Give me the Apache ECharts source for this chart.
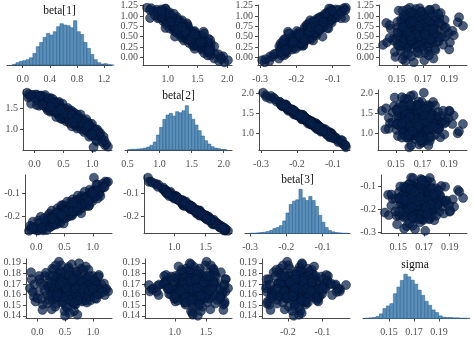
<!DOCTYPE html>
<html><head><meta charset="utf-8">
<script src="https://cdn.jsdelivr.net/npm/echarts@6/dist/echarts.min.js"></script>
<style>html,body{margin:0;padding:0;background:#fff}#c{width:474px;height:338px}</style>
</head><body><div id="c"></div>
<script>
// ---- upper-triangle draws (first half of chains) ----
const uB1 = [-0.12,-0.07,-0.03,0.01,0.05,0.09,0.13,0.16,0.19,0.21,0.23,0.25,0.27,0.29,0.30,0.32,0.33,0.35,0.36,0.37,0.38,0.39,0.34,0.28,0.24,0.31,0.41,0.42,0.43,0.44,0.45,0.46,0.47,0.48,0.49,0.50,0.51,0.52,0.53,0.54,0.55,0.56,0.57,0.58,0.59,0.435,0.465,0.505,0.545,0.575,0.595,0.60,0.61,0.62,0.63,0.64,0.65,0.66,0.67,0.68,0.69,0.70,0.71,0.72,0.73,0.74,0.75,0.76,0.77,0.78,0.79,0.615,0.645,0.675,0.705,0.735,0.765,0.785,0.76,0.80,0.81,0.82,0.83,0.84,0.85,0.86,0.87,0.88,0.89,0.90,0.91,0.92,0.93,0.94,0.95,0.97,0.98,0.99,0.96,1.01,1.03,1.05,1.07,1.09,1.11,1.13,1.15,1.17,1.20,1.19,1.18,1.16,0.62,-0.09,0.95,
  0.025,0.105,0.155,0.205,0.225,0.255,0.265,0.285,0.305,0.315,0.325,0.345,0.355,0.365,0.375,0.385,0.395,0.405,0.415,0.425,0.445,0.455,0.475,0.485,0.495,0.515,0.525,0.535,0.555,0.565,0.585,0.605,0.625,0.635,0.655,0.665,0.685,0.695,0.715,0.725,0.745,0.755,0.775,0.795,0.805,0.815,0.825,0.835,0.845,0.855,0.865,0.875,0.885,0.895,0.905,0.915,0.925,0.945,0.955,0.965,0.975,0.985,1.005,1.025,1.045,1.065,1.085,1.105,1.125,1.145,1.055,0.045,0.075,0.115,0.175,-0.045,0.575,0.50,0.71,0.42,0.64,0.53,0.47,0.69,0.58,0.36,0.78,0.60,0.72,0.57,0.66,0.51,0.75,0.44,0.62,0.83,0.68,0.55,0.73,0.86];
const uB2 = [1.95,2.01,1.78,1.89,1.72,1.79,1.67,1.70,1.56,1.72,1.56,1.62,1.46,1.69,1.56,1.47,1.59,1.49,1.62,1.40,1.53,1.44,1.72,1.42,1.60,1.60,1.53,1.37,1.59,1.41,1.68,1.44,1.35,1.50,1.29,1.43,1.37,1.49,1.30,1.41,1.32,1.42,1.21,1.34,1.27,1.30,1.52,1.35,1.48,1.36,1.15,1.37,1.22,1.40,1.26,1.32,1.16,1.33,1.21,1.25,1.32,1.16,1.25,1.08,1.32,1.17,1.25,1.09,1.19,1.26,1.10,1.45,1.10,1.30,1.21,1.28,1.05,1.33,1.23,1.18,1.06,1.22,1.10,1.17,1.00,1.12,1.20,1.03,1.10,0.94,1.12,1.05,0.97,1.13,0.99,1.05,0.90,1.06,0.85,1.02,0.88,1.02,0.90,0.95,0.76,0.93,0.81,0.96,0.65,0.72,0.96,0.89,1.60,1.86,0.70,
  1.93,1.61,1.71,1.45,1.71,1.56,1.78,1.44,1.56,1.66,1.46,1.36,1.57,1.67,1.40,1.47,1.59,1.27,1.49,1.33,1.59,1.33,1.45,1.22,1.48,1.35,1.57,1.23,1.36,1.46,1.25,1.14,1.35,1.45,1.17,1.24,1.35,1.03,1.24,1.09,1.34,1.08,1.20,0.97,1.23,1.10,1.32,0.99,1.12,1.22,1.02,0.92,1.13,1.24,0.97,1.04,1.15,0.83,1.05,0.89,1.15,0.89,1.02,0.78,1.03,0.90,1.03,0.82,0.89,0.70,1.10,1.67,1.85,1.70,1.69,1.90,1.61,1.12,0.96,1.71,1.23,1.44,1.39,1.25,1.37,1.55,1.11,1.23,1.28,1.31,1.28,1.41,1.17,1.39,1.29,1.18,1.15,1.45,1.24,1.05];
const uB3 = [-0.287,-0.294,-0.248,-0.266,-0.233,-0.257,-0.229,-0.244,-0.211,-0.244,-0.207,-0.225,-0.192,-0.241,-0.215,-0.190,-0.216,-0.205,-0.226,-0.180,-0.211,-0.191,-0.243,-0.181,-0.218,-0.227,-0.205,-0.182,-0.213,-0.191,-0.231,-0.186,-0.179,-0.207,-0.162,-0.189,-0.174,-0.203,-0.172,-0.183,-0.172,-0.194,-0.148,-0.172,-0.165,-0.159,-0.209,-0.173,-0.198,-0.184,-0.143,-0.178,-0.157,-0.179,-0.165,-0.166,-0.142,-0.175,-0.148,-0.164,-0.172,-0.147,-0.153,-0.126,-0.177,-0.143,-0.158,-0.134,-0.143,-0.163,-0.129,-0.192,-0.137,-0.161,-0.159,-0.162,-0.123,-0.172,-0.152,-0.149,-0.123,-0.153,-0.138,-0.141,-0.117,-0.133,-0.154,-0.118,-0.128,-0.108,-0.138,-0.120,-0.108,-0.142,-0.110,-0.125,-0.096,-0.129,-0.091,-0.116,-0.098,-0.114,-0.100,-0.102,-0.076,-0.102,-0.084,-0.105,-0.064,-0.070,-0.110,-0.092,-0.223,-0.274,-0.066,
  -0.272,-0.226,-0.230,-0.202,-0.237,-0.224,-0.247,-0.182,-0.219,-0.233,-0.184,-0.187,-0.212,-0.237,-0.178,-0.209,-0.217,-0.154,-0.208,-0.169,-0.212,-0.177,-0.185,-0.162,-0.197,-0.187,-0.210,-0.145,-0.184,-0.198,-0.147,-0.149,-0.173,-0.199,-0.138,-0.169,-0.175,-0.112,-0.164,-0.127,-0.169,-0.133,-0.141,-0.118,-0.153,-0.144,-0.166,-0.103,-0.142,-0.156,-0.107,-0.110,-0.135,-0.162,-0.103,-0.134,-0.140,-0.077,-0.131,-0.092,-0.135,-0.100,-0.110,-0.085,-0.118,-0.109,-0.115,-0.074,-0.102,-0.065,-0.121,-0.241,-0.261,-0.243,-0.229,-0.285,-0.221,-0.128,-0.115,-0.235,-0.158,-0.190,-0.185,-0.156,-0.184,-0.208,-0.137,-0.151,-0.163,-0.170,-0.161,-0.189,-0.147,-0.179,-0.164,-0.151,-0.138,-0.192,-0.160,-0.126];
const uSig = [0.163,0.171,0.178,0.149,0.156,0.167,0.1485,0.174,0.190,0.161,0.158,0.166,0.153,0.169,0.1395,0.172,0.160,0.177,0.1425,0.164,0.182,0.157,0.168,0.1545,0.1735,0.1505,0.165,0.159,0.171,0.1625,0.176,0.155,0.168,0.161,0.1735,0.1845,0.152,0.166,0.158,0.1695,0.1785,0.163,0.1555,0.171,0.1605,0.1645,0.1475,0.187,0.1575,0.1805,0.1675,0.162,0.175,0.1585,0.1665,0.154,0.1715,0.1815,0.161,0.1695,0.1565,0.1735,0.164,0.1505,0.1675,0.1785,0.159,0.1705,0.1635,0.1845,0.157,0.1625,0.169,0.1545,0.1765,0.1605,0.1725,0.1665,0.2005,0.165,0.158,0.1755,0.142,0.168,0.1965,0.1615,0.1535,0.1725,0.1795,0.1645,0.159,0.1705,0.1555,0.1825,0.1685,0.1975,0.1605,0.1745,0.1635,0.1665,0.171,0.1575,0.1835,0.162,0.169,0.1515,0.1755,0.1645,0.160,0.1675,0.1795,0.158,0.1695,0.1565,0.1615,
  0.161,0.172,0.153,0.179,0.166,0.1585,0.1695,0.1515,0.1855,0.1635,0.157,0.1745,0.1665,0.1545,0.1805,0.1605,0.1685,0.1475,0.1765,0.162,0.1555,0.1705,0.1635,0.1825,0.1595,0.1675,0.1505,0.1735,0.1655,0.1575,0.1785,0.1615,0.1695,0.1755,0.1535,0.1645,0.1585,0.1715,0.1865,0.1625,0.1565,0.1745,0.1665,0.1595,0.1785,0.1555,0.1705,0.1645,0.1825,0.1505,0.1675,0.1755,0.1595,0.1685,0.1865,0.1615,0.1535,0.1725,0.1655,0.1585,0.1795,0.1675,0.1555,0.1705,0.1635,0.1765,0.1605,0.1685,0.1545,0.1745,0.1815,0.1745,0.1585,0.1655,0.1795,0.1545,0.1725,0.1665,0.1595,0.161,0.1925,0.1935,0.1445,0.1455,0.1895,0.1905,0.1445,0.1505,0.1875,0.1645,0.1735,0.1605,0.1665,0.1755,0.1575,0.1605,0.1775,0.1715,0.1545,0.1625];
// ---- lower-triangle draws (second half of chains) ----
const lB1 = [-0.13,-0.06,-0.10,-0.03,-0.11,0.02,0.06,0.10,0.14,0.17,0.19,0.21,0.22,0.24,0.26,0.27,0.29,0.30,0.31,0.33,0.34,0.35,0.36,0.37,0.38,0.39,0.23,0.28,0.40,0.41,0.42,0.43,0.44,0.45,0.46,0.47,0.48,0.49,0.50,0.51,0.52,0.53,0.54,0.55,0.56,0.57,0.58,0.59,0.425,0.475,0.515,0.565,0.585,0.60,0.61,0.62,0.63,0.64,0.65,0.66,0.67,0.68,0.69,0.70,0.71,0.72,0.73,0.74,0.75,0.76,0.77,0.78,0.79,0.605,0.635,0.665,0.695,0.725,0.755,0.785,0.745,0.80,0.81,0.82,0.83,0.84,0.85,0.86,0.87,0.88,0.89,0.90,0.92,0.93,0.93,0.95,0.96,0.97,0.98,0.99,1.02,1.00,1.04,1.06,1.05,1.08,1.12,1.15,1.22,1.27,1.24,1.10,
  -0.08,0.04,0.08,0.12,0.155,0.185,0.205,0.225,0.245,0.255,0.275,0.295,0.315,0.325,0.345,0.355,0.375,0.385,0.395,0.405,0.415,0.435,0.445,0.455,0.465,0.485,0.495,0.505,0.525,0.535,0.545,0.555,0.575,0.595,0.615,0.625,0.645,0.655,0.675,0.685,0.705,0.715,0.735,0.765,0.775,0.795,0.805,0.815,0.825,0.845,0.855,0.875,0.895,0.905,0.915,0.935,0.945,0.955,0.975,0.995,1.015,1.035,1.065,1.085,1.105,1.135,1.175,1.195,1.21,0.005,-0.05,0.035,0.095,0.135,0.49,0.66,0.58,0.43,0.62,0.75,0.33,0.87,0.54,0.69,0.60,0.47,0.77,0.40,0.82,0.57,0.71,0.51,0.64,0.36,0.92,0.73,0.45,0.66,0.28,1.00];
const lB2 = [1.855,1.60,1.82,1.80,1.74,1.81,1.67,1.78,1.66,1.76,1.53,1.68,1.55,1.72,1.57,1.62,1.43,1.63,1.51,1.55,1.43,1.65,1.50,1.56,1.43,1.51,1.44,1.73,1.54,1.36,1.49,1.41,1.56,1.36,1.47,1.29,1.42,1.49,1.37,1.44,1.29,1.39,1.24,1.45,1.31,1.37,1.26,1.45,1.64,1.24,1.38,1.42,1.22,1.36,1.23,1.39,1.27,1.31,1.15,1.32,1.20,1.37,1.20,1.25,1.13,1.29,1.16,1.24,1.08,1.19,1.28,1.09,1.18,1.15,1.44,1.17,1.27,1.07,1.25,1.14,1.34,1.09,1.22,1.04,1.14,1.08,1.21,0.98,1.14,1.02,1.16,1.05,1.11,0.94,1.16,1.05,0.94,1.05,0.86,1.07,0.585,1.01,0.89,1.00,0.85,0.72,0.91,0.81,0.63,0.60,0.66,0.94,
  1.77,1.81,1.55,1.79,1.64,1.80,1.50,1.63,1.72,1.52,1.41,1.62,1.71,1.44,1.51,1.62,1.29,1.51,1.36,1.62,1.36,1.48,1.26,1.52,1.39,1.60,1.26,1.40,1.49,1.29,1.19,1.40,1.50,1.22,1.29,1.40,1.07,1.29,1.13,1.39,1.12,1.25,1.02,1.26,1.13,1.35,1.01,1.14,1.24,1.04,0.94,1.14,1.24,0.97,1.04,1.14,0.83,1.05,0.88,1.13,0.87,0.99,0.75,1.00,0.86,0.92,0.71,0.83,0.74,1.73,1.80,1.57,1.78,1.57,1.42,1.26,1.28,1.49,1.26,1.24,1.58,1.06,1.39,1.27,1.25,1.48,1.15,1.43,1.16,1.35,1.17,1.36,1.34,1.42,1.09,1.26,1.46,1.17,1.52,0.89];
const lB3 = [-0.263,-0.223,-0.255,-0.258,-0.241,-0.261,-0.227,-0.254,-0.236,-0.246,-0.212,-0.231,-0.213,-0.245,-0.209,-0.222,-0.193,-0.222,-0.209,-0.207,-0.188,-0.231,-0.198,-0.219,-0.191,-0.202,-0.188,-0.241,-0.213,-0.175,-0.205,-0.183,-0.212,-0.183,-0.194,-0.164,-0.191,-0.196,-0.183,-0.190,-0.170,-0.178,-0.158,-0.198,-0.166,-0.178,-0.163,-0.190,-0.229,-0.151,-0.181,-0.194,-0.157,-0.174,-0.153,-0.186,-0.157,-0.174,-0.143,-0.169,-0.153,-0.177,-0.145,-0.163,-0.137,-0.168,-0.139,-0.162,-0.127,-0.149,-0.161,-0.134,-0.143,-0.138,-0.195,-0.149,-0.160,-0.129,-0.154,-0.143,-0.177,-0.128,-0.156,-0.118,-0.144,-0.128,-0.149,-0.115,-0.136,-0.121,-0.147,-0.122,-0.131,-0.107,-0.155,-0.127,-0.100,-0.123,-0.093,-0.124,-0.032,-0.120,-0.092,-0.113,-0.086,-0.062,-0.101,-0.079,-0.049,-0.050,-0.054,-0.103,
  -0.246,-0.261,-0.202,-0.261,-0.225,-0.260,-0.198,-0.215,-0.247,-0.208,-0.175,-0.233,-0.236,-0.197,-0.197,-0.236,-0.165,-0.196,-0.185,-0.220,-0.172,-0.203,-0.152,-0.214,-0.181,-0.231,-0.156,-0.175,-0.207,-0.168,-0.136,-0.194,-0.200,-0.159,-0.159,-0.197,-0.126,-0.158,-0.145,-0.179,-0.130,-0.163,-0.110,-0.169,-0.136,-0.187,-0.112,-0.130,-0.163,-0.124,-0.093,-0.149,-0.154,-0.115,-0.115,-0.152,-0.084,-0.116,-0.101,-0.134,-0.086,-0.117,-0.062,-0.123,-0.089,-0.112,-0.059,-0.075,-0.072,-0.249,-0.251,-0.218,-0.250,-0.210,-0.187,-0.164,-0.160,-0.198,-0.159,-0.159,-0.214,-0.124,-0.181,-0.164,-0.156,-0.202,-0.140,-0.186,-0.146,-0.178,-0.142,-0.179,-0.178,-0.186,-0.133,-0.159,-0.194,-0.142,-0.209,-0.100];
const lSig = [0.166,0.158,0.1745,0.1535,0.181,0.1625,0.171,0.1505,0.1775,0.1595,0.168,0.155,0.1725,0.1635,0.146,0.1845,0.161,0.1695,0.157,0.1765,0.1645,0.1515,0.172,0.1605,0.1795,0.191,0.167,0.1585,0.1625,0.174,0.1565,0.1685,0.1805,0.1535,0.165,0.1595,0.1715,0.1635,0.140,0.1775,0.161,0.1675,0.1555,0.1735,0.186,0.1585,0.1665,0.162,0.1705,0.1755,0.149,0.1645,0.1825,0.165,0.158,0.1715,0.1525,0.1685,0.1775,0.161,0.1665,0.1555,0.1735,0.1635,0.1815,0.141,0.1695,0.1595,0.1755,0.164,0.1565,0.1705,0.1845,0.1675,0.1625,0.1505,0.1785,0.166,0.1715,0.1605,0.1735,0.1635,0.1545,0.1725,0.1665,0.1795,0.1585,0.1695,0.1615,0.1755,0.1525,0.1665,0.1835,0.160,0.1715,0.1575,0.1745,0.1655,0.170,0.1605,0.169,0.1775,0.165,0.156,0.1725,0.168,0.1605,0.1695,0.165,0.163,0.1655,0.177,
  0.1625,0.1745,0.156,0.1685,0.1805,0.1515,0.1665,0.1775,0.1595,0.1705,0.1545,0.1835,0.1655,0.1485,0.1725,0.1605,0.1765,0.1645,0.1575,0.1715,0.1825,0.1615,0.1685,0.1525,0.1755,0.1655,0.1585,0.1795,0.1635,0.1475,0.1705,0.1845,0.1595,0.1675,0.1555,0.1735,0.1645,0.1775,0.1615,0.1505,0.1685,0.1815,0.1575,0.1665,0.1745,0.1625,0.1535,0.1715,0.1835,0.1605,0.1665,0.1545,0.1755,0.1645,0.1585,0.1695,0.1775,0.1545,0.1675,0.1615,0.1735,0.1565,0.1695,0.1605,0.1785,0.1655,0.1625,0.1705,0.1595,0.1565,0.1695,0.1775,0.1455,0.1635,0.1445,0.1445,0.1425,0.1875,0.1885,0.1895,0.1875,0.1865,0.1625,0.1655,0.1725,0.1575,0.1605,0.1695,0.1655,0.1785,0.1575,0.1665,0.1745,0.1585,0.1635,0.1545,0.1715,0.1525,0.1775,0.1655];

// ---- diagonal histograms (bin counts) ----
const paramNames = ['beta[1]', 'beta[2]', 'beta[3]', 'sigma'];
const histBinStart = [-0.15, 0.5, -0.3, 0.131];
const histBinWidth = [0.05, 0.05, 0.009, 0.0028];
const histBeta1 = [2,7,11,13,16,22,35,55,68,83,95,90,100,115,124,120,118,112,133,100,92,68,50,32,16,7,3,4,1,0];
const histBeta2 = [1,2,2,3,4,6,9,14,24,45,68,92,105,110,102,115,112,118,133,108,92,75,58,42,28,18,10,6,4,2,1];
const histBeta3 = [1,1,2,3,4,6,9,15,18,24,38,62,88,98,102,134,108,100,112,100,82,55,34,18,9,5,3,2,1,1];
const histSigma = [1,2,3,6,14,30,38,45,75,95,115,134,126,116,104,86,70,52,40,26,18,8,4,3,3,2,2,1,1,1];
const histCounts = [histBeta1, histBeta2, histBeta3, histSigma];

// ---- tick labels ----
const upperTicks = [[0,0.25,0.5,0.75,1,1.25],[1,1.5,2],[-0.3,-0.2,-0.1],[0.15,0.17,0.19]];
const upperDigits = [2,1,1,2];
const lowerTicks = [[0,0.5,1],[1,1.5],[-0.2,-0.1],[0.14,0.15,0.16,0.17,0.18,0.19]];
const lowerDigits = [1,1,1,2];
const histTicks = [[0,0.4,0.8,1.2],[0.5,1,1.5,2],[-0.3,-0.2,-0.1],[0.15,0.17,0.19]];
const histDigits = [1,1,1,2];

// ---- layout ----
const rowTop = [5, 90, 175, 259];
const rowBottom = [65, 150, 233.5, 318.5];
const colRight = [112, 232, 350, 467];
const histLeft = [7, 125, 245, 363];
const histRange = [[-0.232, 1.318], [0.46, 2.13], [-0.314, -0.024], [0.129, 0.2126]];
const scatterLeft = [
  [null, 143, 258, 379],
  [23, null, 259, 378],
  [25, 144, null, 381],
  [26, 145, 262, null]
];
const FONT = '"Liberation Serif","DejaVu Serif",serif';
const AXIS_COLOR = '#4a4a4a';
const LABEL_COLOR = '#4d4d4d';

const upperDraws = [uB1, uB2, uB3, uSig];
const lowerDraws = [lB1, lB2, lB3, lSig];

function expandRange(arr) {
  const mn = Math.min(...arr), mx = Math.max(...arr), d = (mx - mn) * 0.05;
  return [mn - d, mx + d];
}
function mkAxis(dim, gi, rng, ticks, digits) {
  return {
    type: 'value', gridIndex: gi, min: rng[0], max: rng[1],
    position: dim === 'x' ? 'bottom' : 'left',
    axisLine: { show: true, onZero: false, lineStyle: { color: AXIS_COLOR, width: 1 } },
    axisTick: { show: true, length: 3, customValues: ticks, lineStyle: { color: AXIS_COLOR, width: 1 } },
    axisLabel: { show: true, customValues: ticks, formatter: v => Number(v).toFixed(digits),
      fontFamily: FONT, fontSize: 10, color: LABEL_COLOR, margin: dim === 'x' ? 9 : 5 },
    splitLine: { show: false }
  };
}

const grids = [], xAxes = [], yAxes = [], series = [], graphics = [];
let gi = 0;
for (let r = 0; r < 4; r++) {
  for (let c = 0; c < 4; c++) {
    if (r === c) {
      const left = histLeft[c], right = colRight[c];
      const bottom = rowBottom[r], h = 46.5;
      grids.push({ left: left, top: bottom - h, width: right - left, height: h });
      const counts = histCounts[c];
      const maxC = Math.max(...counts);
      xAxes.push(mkAxis('x', gi, histRange[c], histTicks[c], histDigits[c]));
      yAxes.push({ type: 'value', gridIndex: gi, min: 0, max: maxC * 1.05, show: false });
      const data = counts.map((n, i) => [histBinStart[c] + i * histBinWidth[c], histBinStart[c] + (i + 1) * histBinWidth[c], n]);
      series.push({
        type: 'custom', xAxisIndex: gi, yAxisIndex: gi, data: data, silent: true,
        encode: { x: [0, 1], y: 2 },
        renderItem: (params, api) => {
          const p0 = api.coord([api.value(0), api.value(2)]);
          const p1 = api.coord([api.value(1), 0]);
          return { type: 'rect', shape: { x: p0[0], y: p0[1], width: p1[0] - p0[0], height: p1[1] - p0[1] },
            style: { fill: '#5b8fb8', stroke: '#1f5a8e', lineWidth: 0.5 } };
        }
      });
      graphics.push({ type: 'text', x: (left + right) / 2, y: bottom - 54,
        style: { text: paramNames[c], font: '11.5px ' + FONT, fill: '#111', textAlign: 'center', textVerticalAlign: 'middle' } });
    } else {
      const upper = c > r;
      const draws = upper ? upperDraws : lowerDraws;
      const ticks = upper ? upperTicks : lowerTicks;
      const digits = upper ? upperDigits : lowerDigits;
      const left = scatterLeft[r][c], right = colRight[c];
      grids.push({ left: left, top: rowTop[r], width: right - left, height: rowBottom[r] - rowTop[r] });
      const xs = draws[c], ys = draws[r];
      xAxes.push(mkAxis('x', gi, expandRange(xs), ticks[c], digits[c]));
      yAxes.push(mkAxis('y', gi, expandRange(ys), ticks[r], digits[r]));
      series.push({
        type: 'scatter', xAxisIndex: gi, yAxisIndex: gi, silent: true, clip: false,
        data: xs.map((v, i) => [v, ys[i]]),
        symbol: 'circle', symbolSize: 9,
        itemStyle: { color: 'rgba(6,30,72,0.9)', borderColor: 'rgba(3,18,45,0.95)', borderWidth: 0.6 }
      });
    }
    gi++;
  }
}

const chart = echarts.init(document.getElementById('c'), null, { renderer: 'canvas' });
chart.setOption({
  backgroundColor: '#ffffff', animation: false,
  grid: grids, xAxis: xAxes, yAxis: yAxes, series: series, graphic: graphics
});
</script></body></html>
